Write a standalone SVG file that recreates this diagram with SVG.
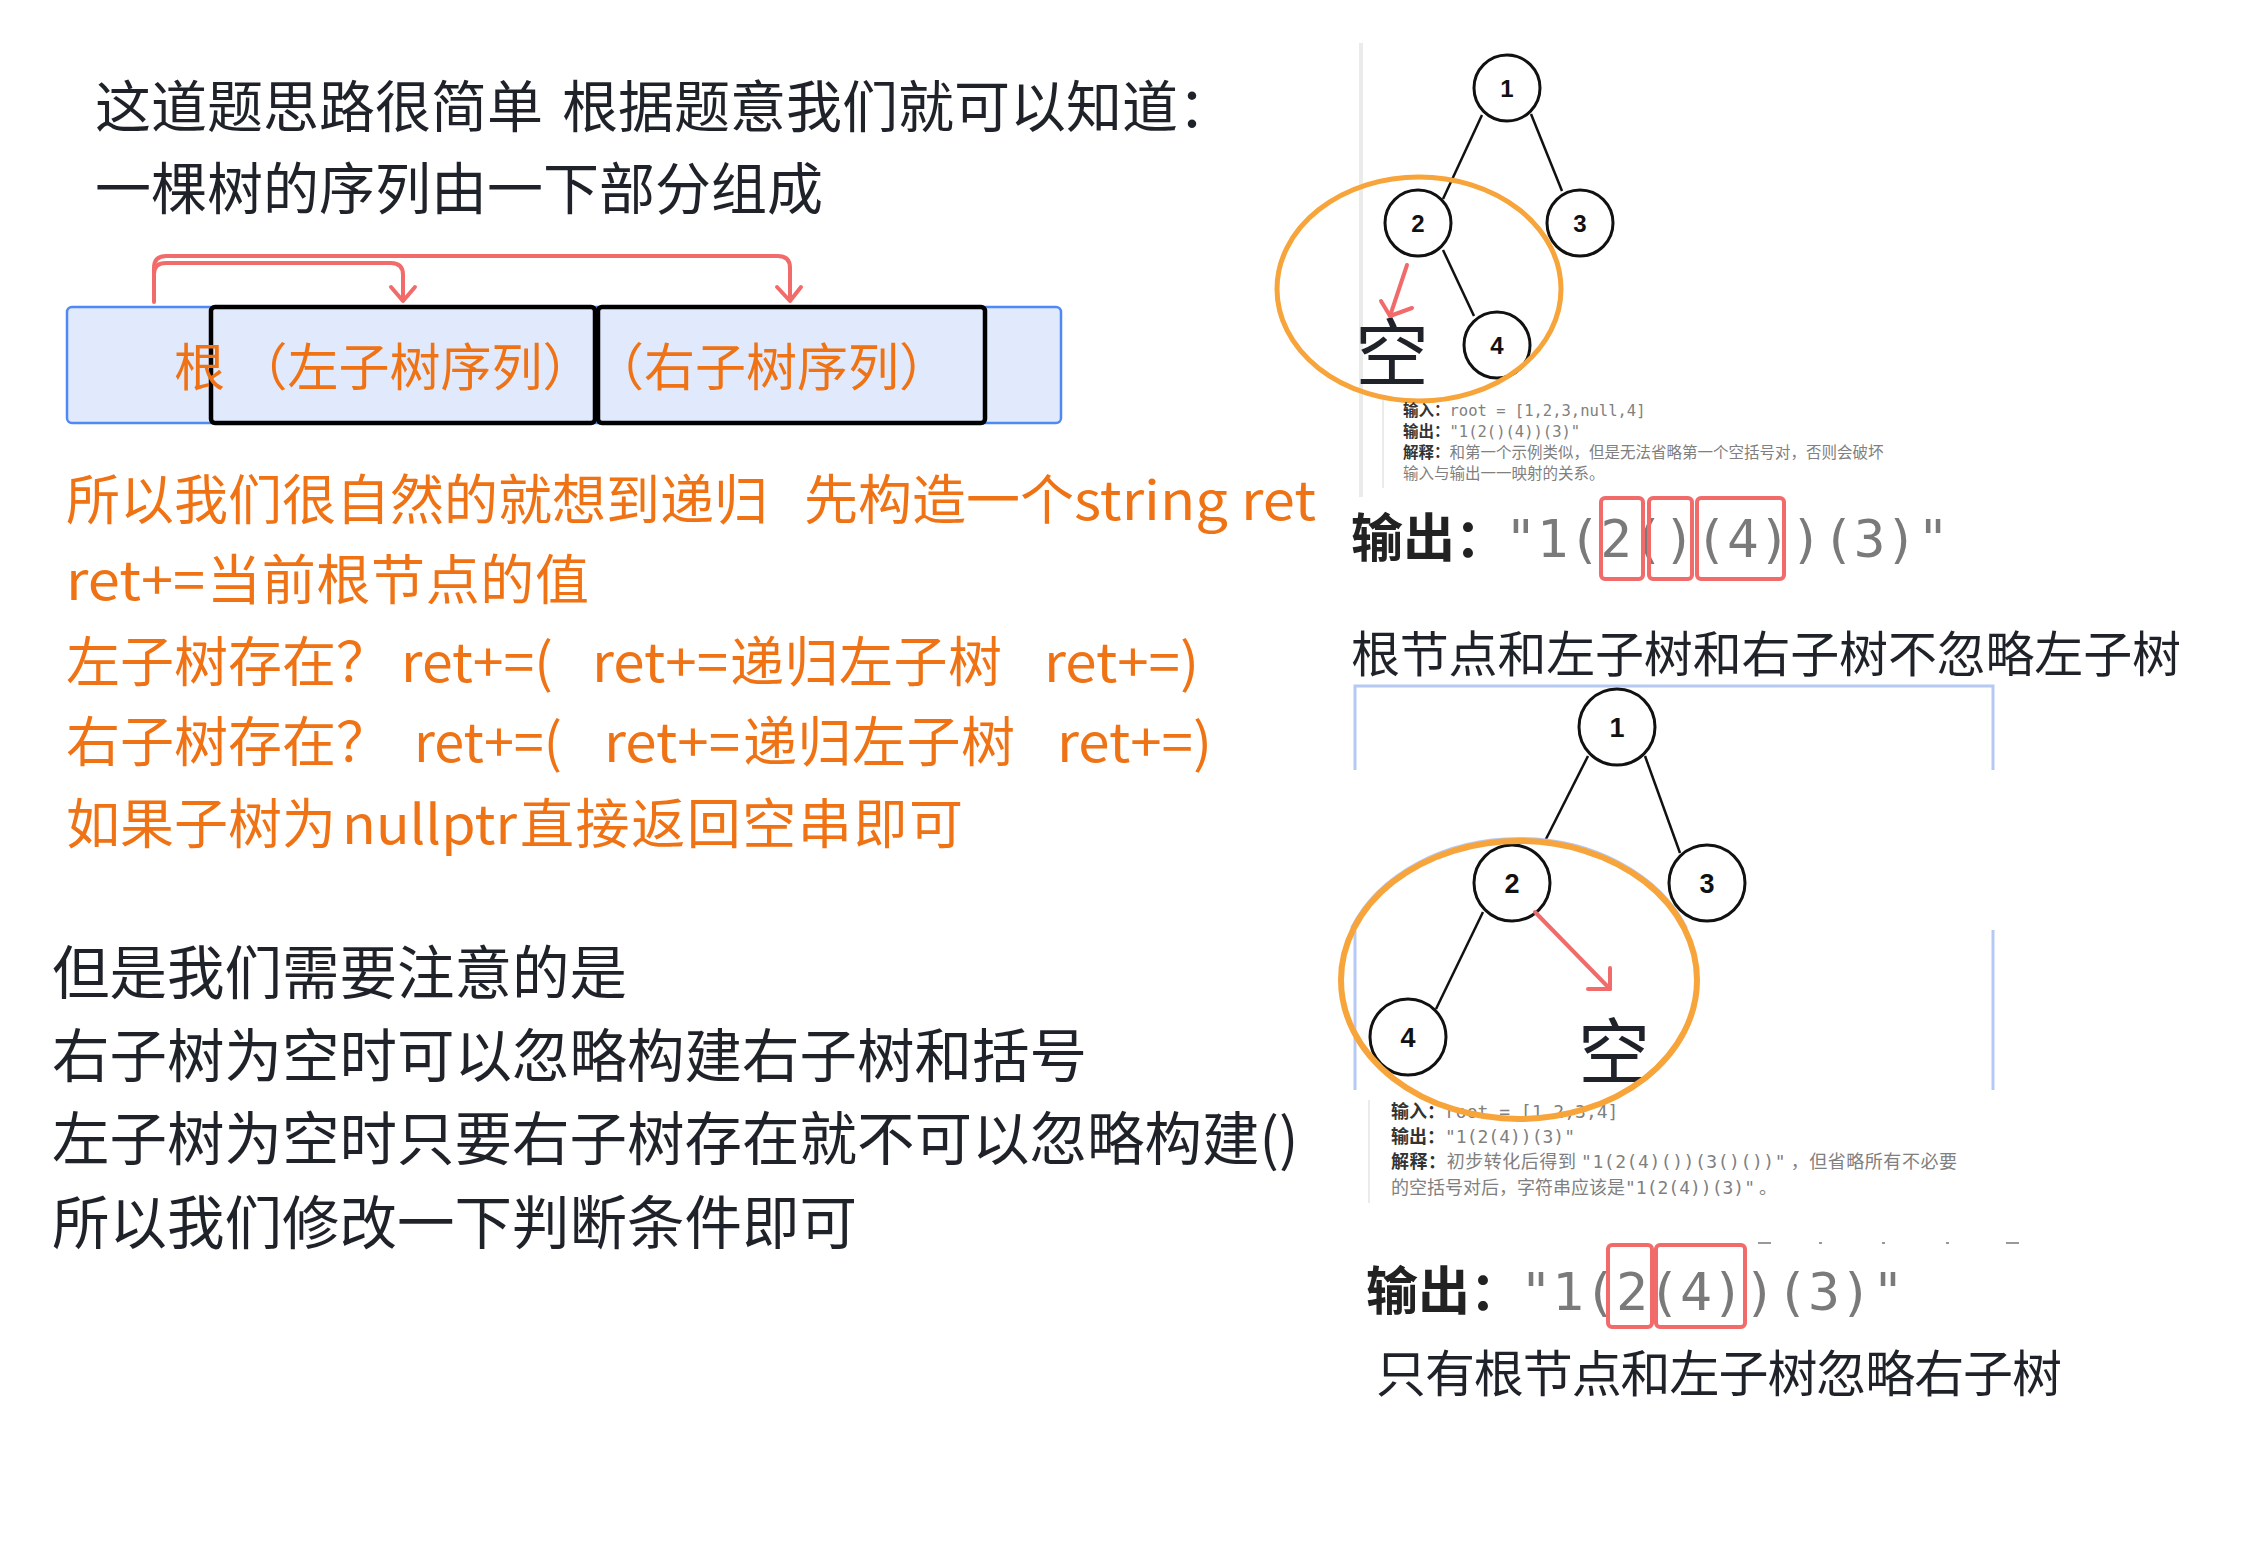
<svg xmlns="http://www.w3.org/2000/svg" width="2249" height="1541" viewBox="0 0 2249 1541">
<style>
.cjk{font-family:"Noto Sans CJK SC","Noto Sans",sans-serif}
.blk{fill:#1f2329}
.org{fill:#ef7314}
.mono{font-family:"DejaVu Sans Mono","Liberation Mono",monospace}
.lbl{font-family:"Noto Sans CJK SC",sans-serif;font-weight:bold;fill:#333}
.gry{fill:#808080}
.node{fill:#fff;stroke:#111;stroke-width:3}
.edge{stroke:#111;stroke-width:2.5;fill:none}
.num{font-family:"Liberation Sans",Arial,sans-serif;font-weight:bold;fill:#111;text-anchor:middle}
.red{stroke:#f26b6b;stroke-width:4;fill:none;stroke-linecap:round;stroke-linejoin:round}
.rbox{stroke:#f26b6b;stroke-width:4;fill:none}
.ring{stroke:#f7a43b;fill:none}
.bframe{stroke:#b6c9f4;stroke-width:3;fill:none}
.bar{stroke:#ebebeb;fill:none}
</style>
<rect width="2249" height="1541" fill="#fff"/>

<g id="intro" class="cjk blk" font-size="56">
<text x="95" y="127">这道题思路很简单</text>
<text x="562" y="127">根据题意我们就可以知道：</text>
<text x="95" y="209">一棵树的序列由一下部分组成</text>
</g>

<g id="seq-box">
<rect x="67" y="307" width="994" height="116" rx="5" fill="#e1e9fc" stroke="#4f89f3" stroke-width="2.5"/>
<rect x="211" y="307" width="384" height="116" rx="4" fill="none" stroke="#000" stroke-width="4.5"/>
<rect x="598" y="307" width="387" height="116" rx="4" fill="none" stroke="#000" stroke-width="4.5"/>
<text class="cjk org" font-size="51" x="174" y="386">根 （左子树序列）</text>
<text class="cjk org" font-size="51" x="593" y="386">（右子树序列）</text>
</g>

<g id="connectors">
<path class="red" d="M154 302 V268 Q154 256 166 256 H778 Q790 256 790 268 V300"/>
<path class="red" d="M777 287 L790 301 L801 287"/>
<path class="red" d="M154 290 V274 Q154 263 166 263 H391 Q403 263 403 275 V300"/>
<path class="red" d="M391 287 L403 301 L415 287"/>
</g>

<g id="recursion" class="cjk org" font-size="54">
<text x="66" y="520">所以我们很自然的就想到递归</text>
<text x="804" y="520">先构造一个</text>
<text x="1074" y="520" textLength="242" lengthAdjust="spacingAndGlyphs">string ret</text>
<text x="66" y="600" textLength="139" lengthAdjust="spacingAndGlyphs">ret+=</text>
<text x="207" y="600" textLength="382">当前根节点的值</text>
<text x="66" y="682">左子树存在？</text>
<text x="401" y="682" textLength="152" lengthAdjust="spacingAndGlyphs">ret+=(</text>
<text x="592" y="682" textLength="136" lengthAdjust="spacingAndGlyphs">ret+=</text>
<text x="730" y="682" textLength="272">递归左子树</text>
<text x="1044" y="682" textLength="155" lengthAdjust="spacingAndGlyphs">ret+=)</text>
<text x="66" y="762">右子树存在？</text>
<text x="414" y="762" textLength="148" lengthAdjust="spacingAndGlyphs">ret+=(</text>
<text x="604" y="762" textLength="136" lengthAdjust="spacingAndGlyphs">ret+=</text>
<text x="743" y="762" textLength="272">递归左子树</text>
<text x="1057" y="762" textLength="155" lengthAdjust="spacingAndGlyphs">ret+=)</text>
<text x="66" y="844">如果子树为</text>
<text x="342" y="844" textLength="175" lengthAdjust="spacingAndGlyphs">nullptr</text>
<text x="520" y="844" textLength="443">直接返回空串即可</text>
</g>

<g id="notes" class="cjk blk" font-size="57.5">
<text x="52" y="994">但是我们需要注意的是</text>
<text x="52" y="1077">右子树为空时可以忽略构建右子树和括号</text>
<text x="52" y="1160">左子树为空时只要右子树存在就不可以忽略构建()</text>
<text x="52" y="1244">所以我们修改一下判断条件即可</text>
</g>

<g id="example1">
<line class="bar" x1="1361" y1="43" x2="1361" y2="497" stroke-width="4"/>
<line class="bar" x1="1383" y1="399" x2="1383" y2="488" stroke-width="2"/>
<line class="edge" x1="1482" y1="115" x2="1443" y2="199"/>
<line class="edge" x1="1531" y1="114" x2="1562" y2="191"/>
<line class="edge" x1="1443" y1="250" x2="1474" y2="316"/>
<g id="t1-n1"><circle class="node" cx="1507" cy="88" r="33"/><text class="num" x="1507" y="97" font-size="24">1</text></g>
<g id="t1-n2"><circle class="node" cx="1418" cy="223" r="33"/><text class="num" x="1418" y="232" font-size="24">2</text></g>
<g id="t1-n3"><circle class="node" cx="1580" cy="223" r="33"/><text class="num" x="1580" y="232" font-size="24">3</text></g>
<g id="t1-n4"><circle class="node" cx="1497" cy="345" r="33"/><text class="num" x="1497" y="354" font-size="24">4</text></g>
<text class="cjk blk" x="1355" y="380" font-size="74">空</text>
<path class="red" d="M1407 265 L1390 316"/>
<path class="red" d="M1381 301 L1390 316 L1412 308"/>
<ellipse class="ring" cx="1419" cy="289" rx="142" ry="112" stroke-width="5"/>
<g font-size="15.5">
<text x="1403" y="416"><tspan class="lbl">输入：</tspan><tspan class="mono gry">root = [1,2,3,null,4]</tspan></text>
<text x="1403" y="437"><tspan class="lbl">输出：</tspan><tspan class="mono gry">"1(2()(4))(3)"</tspan></text>
<text x="1403" y="458"><tspan class="lbl">解释：</tspan><tspan class="cjk gry">和第一个示例类似，但是无法省略第一个空括号对，否则会破坏</tspan></text>
<text x="1403" y="479" class="cjk gry">输入与输出一一映射的关系。</text>
</g>
<text class="lbl" x="1351" y="557" font-size="52" style="fill:#222">输出：</text>
<text class="mono" x="1505" y="557" font-size="52" fill="#7a7a7a" textLength="444" lengthAdjust="spacingAndGlyphs">"1(2()(4))(3)"</text>
<rect class="rbox" x="1601" y="498" width="42" height="81" rx="4"/>
<rect class="rbox" x="1649" y="498" width="43" height="81" rx="4"/>
<rect class="rbox" x="1697" y="498" width="87" height="81" rx="4"/>
</g>

<g id="example2">
<text class="cjk blk" x="1351" y="672" font-size="49" textLength="830">根节点和左子树和右子树不忽略左子树</text>
<path class="bframe" d="M1355 770 V686 H1993 V770"/>
<path class="bframe" d="M1355 930 V1090"/>
<path class="bframe" d="M1993 930 V1090"/>
<line class="bar" x1="1369" y1="1100" x2="1369" y2="1203" stroke-width="2"/>
<line class="edge" x1="1588" y1="756" x2="1545" y2="841"/>
<line class="edge" x1="1645" y1="756" x2="1680" y2="853"/>
<line class="edge" x1="1483" y1="912" x2="1436" y2="1009"/>
<g id="t2-n1"><circle class="node" cx="1617" cy="727" r="38"/><text class="num" x="1617" y="737" font-size="27">1</text></g>
<g id="t2-n2"><circle class="node" cx="1512" cy="883" r="38"/><text class="num" x="1512" y="893" font-size="27">2</text></g>
<g id="t2-n3"><circle class="node" cx="1707" cy="883" r="38"/><text class="num" x="1707" y="893" font-size="27">3</text></g>
<g id="t2-n4"><circle class="node" cx="1408" cy="1037" r="38"/><text class="num" x="1408" y="1047" font-size="27">4</text></g>
<path class="red" d="M1535 912 L1610 989"/>
<path class="red" d="M1588 989 L1610 989 L1610 968"/>
<text class="cjk blk" x="1578" y="1078" font-size="72">空</text>
<g font-size="18">
<text x="1391" y="1118"><tspan class="lbl">输入：</tspan><tspan class="mono gry">root = [1,2,3,4]</tspan></text>
<text x="1391" y="1143"><tspan class="lbl">输出：</tspan><tspan class="mono gry">"1(2(4))(3)"</tspan></text>
<text x="1391" y="1168" textLength="566"><tspan class="lbl">解释：</tspan><tspan class="cjk gry">初步转化后得到 </tspan><tspan class="mono gry">"1(2(4)())(3()())"</tspan><tspan class="cjk gry"> ，但省略所有不必要</tspan></text>
<text x="1391" y="1194"><tspan class="cjk gry">的空括号对后，字符串应该是</tspan><tspan class="mono gry">"1(2(4))(3)"</tspan><tspan class="cjk gry"> 。</tspan></text>
</g>
<path d="M1351.6 928 A180 141.5 0 0 1 1686.4 928" stroke="#b6c9f4" stroke-width="3" fill="none"/>
<ellipse class="ring" cx="1519" cy="980" rx="178" ry="139" stroke-width="6"/>
<g fill="#999">
<rect x="1758" y="1242" width="13" height="2"/>
<rect x="1819" y="1242" width="3" height="2"/>
<rect x="1882" y="1242" width="3" height="2"/>
<rect x="1946" y="1242" width="3" height="2"/>
<rect x="2006" y="1242" width="13" height="2"/>
</g>
<text class="lbl" x="1366" y="1310" font-size="52" style="fill:#222">输出：</text>
<text class="mono" x="1520" y="1310" font-size="52" fill="#7a7a7a" textLength="384" lengthAdjust="spacingAndGlyphs">"1(2(4))(3)"</text>
<rect class="rbox" x="1608" y="1245" width="44" height="82" rx="4"/>
<rect class="rbox" x="1656" y="1245" width="89" height="82" rx="4"/>
<text class="cjk blk" x="1376" y="1392" font-size="50" textLength="686">只有根节点和左子树忽略右子树</text>
</g>
</svg>
